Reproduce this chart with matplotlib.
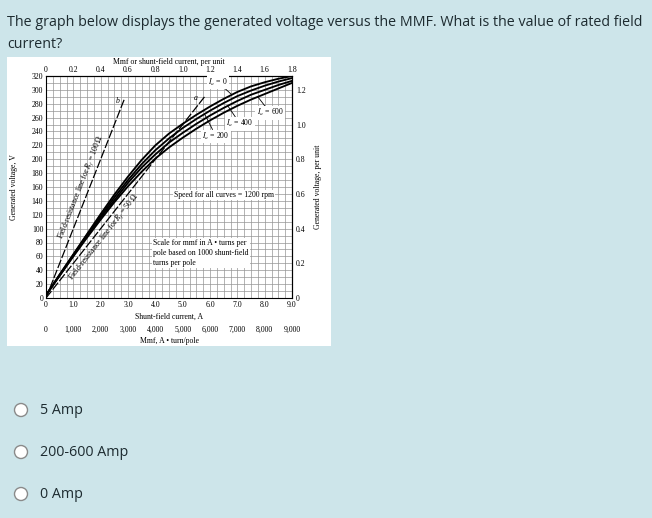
import numpy as np
import matplotlib
matplotlib.use("Agg")
import matplotlib.pyplot as plt
from matplotlib.patches import Rectangle, Circle
from matplotlib.ticker import FuncFormatter, MultipleLocator, FixedLocator

plt.rcParams["mathtext.fontset"] = "stix"

W, H = 652, 518
BG = "#cde5ea"
INK = "#1d2b30"
SERIF = "Liberation Serif"
FS = 5.6

QUESTION = ["The graph below displays the generated voltage versus the MMF. What is the value of rated field",
            "current?"]
CHOICES = ["5 Amp", "200-600 Amp", "0 Amp"]

# magnetization curves at 1200 rpm (shunt-field current A -> generated voltage V)
field_current = [0, 0.5, 1.0, 1.5, 2.0, 2.5, 3.0, 3.5, 4.0, 4.5, 5.0, 5.5, 6.0, 6.5, 7.0, 7.5, 8.0, 8.5, 9.0]
ea_ia0 = [4, 34, 63, 92, 121, 149, 175, 199, 220, 237, 251, 264, 276, 287, 297, 305, 311, 316, 320]
ea_ia200 = [4, 33, 62, 91, 118, 145, 170, 193, 213, 230, 245, 258, 270, 281, 291, 299, 306, 312, 317]
ea_ia400 = [4, 33, 61, 89, 116, 141, 166, 188, 207, 224, 238, 251, 263, 274, 284, 293, 300, 307, 313]
ea_ia600 = [4, 32, 60, 87, 113, 138, 161, 182, 201, 217, 231, 244, 256, 267, 277, 286, 294, 302, 310]

# field-resistance lines (dashed)
line_b_current = [0.0, 2.88]   # Rf = 100 ohm
line_b_voltage = [0, 288]
line_a_current = [0.0, 5.8]    # Rf = 50 ohm
line_a_voltage = [0, 290]

amp_ticks = [0, 1, 2, 3, 4, 5, 6, 7, 8, 9]
volt_ticks = list(range(0, 321, 20))
pu_current_ticks = [0, 0.2, 0.4, 0.6, 0.8, 1.0, 1.2, 1.4, 1.6, 1.8]
pu_volt_ticks = [0, 0.2, 0.4, 0.6, 0.8, 1.0, 1.2]
mmf_ticks = [0, 1000, 2000, 3000, 4000, 5000, 6000, 7000, 8000, 9000]


def fy(y):
    return 1 - y / H


def dec(v, _=None):
    return "0" if abs(v) < 1e-9 else f"{v:.1f}"


fig = plt.figure(figsize=(W / 100, H / 100), dpi=100, facecolor=BG)

# question + answer choices
fig.text(7 / W, fy(22), QUESTION[0], family="Open Sans", size=10.3, color=INK, va="center")
fig.text(7 / W, fy(45), QUESTION[1], family="Open Sans", size=10.3, color=INK, va="center")
for i, choice in enumerate(CHOICES):
    yc = 410 + 42 * i
    fig.add_artist(Circle((21, H - yc), 6.5, transform=None, facecolor="white",
                          edgecolor="#8a8a8a", lw=1.0))
    fig.text(40 / W, fy(yc), choice, family="Open Sans", size=10.3, color=INK, va="center")

# white image panel
fig.add_artist(Rectangle((7 / W, fy(346)), 324 / W, 289 / H, transform=fig.transFigure,
                         facecolor="white", edgecolor="none", zorder=0))

ax = fig.add_axes([46 / W, fy(298), 246 / W, 222 / H])
ax.set_xlim(0, 9)
ax.set_ylim(0, 320)
ax.xaxis.set_major_locator(FixedLocator(amp_ticks))
ax.yaxis.set_major_locator(FixedLocator(volt_ticks))
ax.xaxis.set_minor_locator(MultipleLocator(0.25))
ax.yaxis.set_minor_locator(MultipleLocator(10))
ax.xaxis.set_major_formatter(FuncFormatter(dec))
ax.grid(which="both", color="#959595", lw=0.5)
ax.set_axisbelow(True)
ax.tick_params(which="both", length=0, pad=2, labelsize=FS)
for lab in ax.get_xticklabels() + ax.get_yticklabels():
    lab.set_family(SERIF)
for s in ax.spines.values():
    s.set_linewidth(0.8)
ax.set_xlabel("Shunt-field current, A", family=SERIF, size=FS, labelpad=3)
ax.set_ylabel("Generated voltage, V", family=SERIF, size=FS, labelpad=10)

top = ax.secondary_xaxis("top", functions=(lambda x: x / 5, lambda p: p * 5))
top.set_xticks(pu_current_ticks)
top.xaxis.set_major_formatter(FuncFormatter(dec))
top.tick_params(length=0, pad=1.5, labelsize=FS)
top.set_xlabel("Mmf or shunt-field current, per unit", family=SERIF, size=FS, labelpad=1.5)

right = ax.secondary_yaxis("right", functions=(lambda v: v / 250, lambda p: p * 250))
right.set_yticks(pu_volt_ticks)
right.yaxis.set_major_formatter(FuncFormatter(dec))
right.tick_params(length=0, pad=3, labelsize=FS)
right.set_ylabel("Generated voltage, per unit", family=SERIF, size=FS, labelpad=6)

mmf = ax.secondary_xaxis(-0.125, functions=(lambda x: x * 1000, lambda m: m / 1000))
mmf.set_xticks(mmf_ticks)
mmf.xaxis.set_major_formatter(FuncFormatter(lambda v, _: f"{int(round(v)):,}"))
mmf.tick_params(length=0, pad=0, labelsize=FS)
mmf.spines["bottom"].set_visible(False)
mmf.set_xlabel("Mmf, A \u2022 turn/pole", family=SERIF, size=FS, labelpad=2)

for sec in (top, right, mmf):
    for lab in sec.get_xticklabels() + sec.get_yticklabels():
        lab.set_family(SERIF)

# curves
curves = [("0", ea_ia0), ("200", ea_ia200), ("400", ea_ia400), ("600", ea_ia600)]
for _, ea in curves:
    ax.plot(field_current, ea, color="black", lw=1.35, zorder=3)

ax.plot(line_b_current, line_b_voltage, color="black", lw=0.9, dashes=(7, 1.6), zorder=3)
ax.plot(line_a_current, line_a_voltage, color="black", lw=0.9, dashes=(7, 1.6), zorder=3)

ax.text(2.63, 284, "b", style="italic", family=SERIF, size=FS, ha="center", va="center")
ax.text(5.49, 288, "a", style="italic", family=SERIF, size=FS, ha="center", va="center")

box = dict(boxstyle="square,pad=0.15", facecolor="white", edgecolor="none")
label_pos = {"0": ((6.29, 311), 6.8), "200": ((6.22, 233), 5.8),
             "400": ((7.1, 251), 6.65), "600": ((8.2, 267), 7.75)}
for name, ea in curves:
    (tx, ty), at = label_pos[name]
    ax.annotate(rf"$I_a$ = {name}", xy=(at, np.interp(at, field_current, ea)), xytext=(tx, ty),
                family=SERIF, size=FS, ha="center", va="center", bbox=box, zorder=4,
                arrowprops=dict(arrowstyle="-", lw=0.6, color="black", shrinkA=0, shrinkB=0))

ax.text(1.28, 160, r"Field-resistance line for $R_f$ = 100 $\Omega$", family=SERIF, size=FS,
        rotation=68.5, rotation_mode="anchor", ha="center", va="center", zorder=4)
ax.text(2.1, 88, r"Field-resistance line for $R_f$ = 50 $\Omega$", family=SERIF, size=FS,
        rotation=51.8, rotation_mode="anchor", ha="center", va="center", zorder=4)

ax.text(6.51, 148, "Speed for all curves = 1200 rpm", family=SERIF, size=FS,
        ha="center", va="center", bbox=box, zorder=4)
ax.text(3.92, 65, "Scale for mmf in A \u2022 turns per\npole based on 1000 shunt-field\nturns per pole",
        family=SERIF, size=FS, ha="left", va="center", linespacing=1.35, bbox=box, zorder=4)

fig.savefig("out.png", dpi=100, facecolor=BG)
